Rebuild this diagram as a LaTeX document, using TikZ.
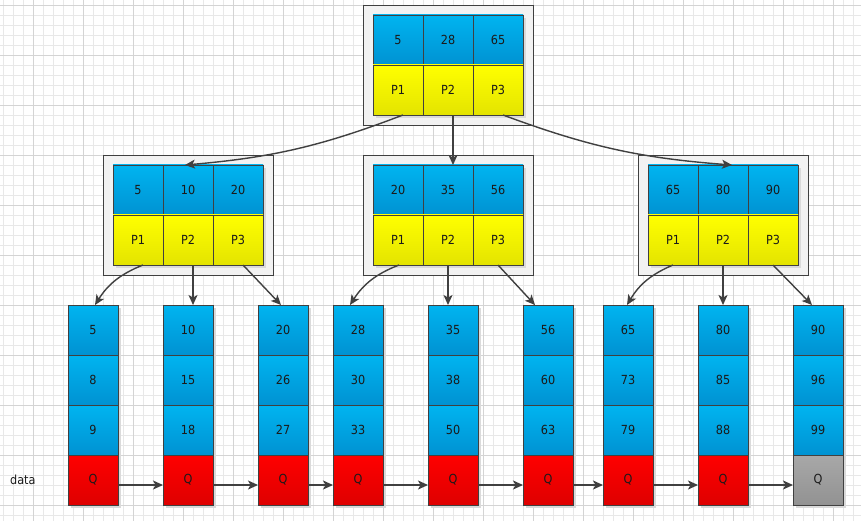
\documentclass[tikz,border=0pt]{standalone}
\usepackage{fontspec}
\setmainfont{DejaVu Sans}[FakeStretch=0.9]
\usetikzlibrary{arrows.meta}
\definecolor{bluetop}{RGB}{0,180,240}
\definecolor{bluebot}{RGB}{0,146,210}
\definecolor{yeltop}{RGB}{255,255,0}
\definecolor{yelbot}{RGB}{228,228,0}
\definecolor{redtop}{RGB}{255,0,0}
\definecolor{redbot}{RGB}{222,0,0}
\definecolor{graytop}{RGB}{168,168,168}
\definecolor{graybot}{RGB}{146,146,146}
\definecolor{linec}{RGB}{64,64,64}
\definecolor{txtc}{RGB}{26,26,26}
\definecolor{outerc}{RGB}{242,242,242}
\definecolor{shadowc}{RGB}{218,218,218}
\definecolor{gridmin}{RGB}{232,232,232}
\definecolor{gridmaj}{RGB}{212,212,212}
\newcommand\cellfont{\fontsize{12.5}{14}\selectfont}
\newcommand\keytable[6]{%
  \fill[shadowc] (#2+3,#3+3) rectangle (#2+153,#3+103);
  \node[bluecell] (#1-k1) at (#2,#3) {#4};
  \node[bluecell] (#1-k2) at (#2+50,#3) {#5};
  \node[bluecell] (#1-k3) at (#2+100,#3) {#6};
  \node[yelcell] (#1-p1) at (#2,#3+50) {P1};
  \node[yelcell] (#1-p2) at (#2+50,#3+50) {P2};
  \node[yelcell] (#1-p3) at (#2+100,#3+50) {P3};}
\newcommand\leafcol[6]{%
  \fill[shadowc] (#2+3,308) rectangle (#2+53,508);
  \node[bluecell] (#1-1) at (#2,305) {#3};
  \node[bluecell] (#1-2) at (#2,355) {#4};
  \node[bluecell] (#1-3) at (#2,405) {#5};
  \node[#6] (#1-4) at (#2,455) {Q};}
\begin{document}
\begin{tikzpicture}[x=1pt,y=-1pt,
  cellbase/.style={draw=linec, line width=0.9pt, minimum width=50pt, minimum height=50pt,
    inner sep=0pt, outer sep=0pt, anchor=north west, text=txtc, font=\cellfont},
  bluecell/.style={cellbase, top color=bluetop, bottom color=bluebot},
  yelcell/.style={cellbase, top color=yeltop, bottom color=yelbot},
  redcell/.style={cellbase, top color=redtop, bottom color=redbot},
  graycell/.style={cellbase, top color=graytop, bottom color=graybot},
  outerbox/.style={draw=linec, line width=0.9pt, fill=outerc, minimum width=170pt,
    minimum height=120pt, inner sep=0pt, outer sep=0pt, anchor=north west},
  conn/.style={draw=linec, line width=1.4pt, -{Stealth[length=10pt,width=9pt,inset=2.5pt]}},
  lbl/.style={text=txtc, font=\cellfont, inner sep=0pt}]
\useasboundingbox (0,0) rectangle (861,521);
\fill[white] (0,0) rectangle (861,521);
% grid
\foreach \x in {3,13,...,863} \draw[gridmin, line width=0.8pt] (\x,0) -- (\x,521);
\foreach \y in {5,15,...,521} \draw[gridmin, line width=0.8pt] (0,\y) -- (861,\y);
\foreach \x in {33,83,...,863} \draw[gridmaj, line width=0.8pt] (\x,0) -- (\x,521);
\foreach \y in {5,55,...,521} \draw[gridmaj, line width=0.8pt] (0,\y) -- (861,\y);
% outer boxes
\node[outerbox] (R) at (363,5) {};
\node[outerbox] (A) at (103,155) {};
\node[outerbox] (B) at (363,155) {};
\node[outerbox] (C) at (638,155) {};
% key tables
\keytable{r}{373}{15}{5}{28}{65}
\keytable{a}{113}{165}{5}{10}{20}
\keytable{b}{373}{165}{20}{35}{56}
\keytable{c}{648}{165}{65}{80}{90}
% leaves
\leafcol{l1}{68}{5}{8}{9}{redcell}
\leafcol{l2}{163}{10}{15}{18}{redcell}
\leafcol{l3}{258}{20}{26}{27}{redcell}
\leafcol{l4}{333}{28}{30}{33}{redcell}
\leafcol{l5}{428}{35}{38}{50}{redcell}
\leafcol{l6}{523}{56}{60}{63}{redcell}
\leafcol{l7}{603}{65}{73}{79}{redcell}
\leafcol{l8}{698}{80}{85}{88}{redcell}
\leafcol{l9}{793}{90}{96}{99}{graycell}
\node[lbl, anchor=west] (data) at (10,480) {data};
% top-level connectors
\draw[conn] ([xshift=5pt]r-p1.south) to[bend left=8] ([xshift=-3pt]a-k2.north);
\draw[conn] ([xshift=5pt]r-p2.south) -- ([xshift=5pt]b-k2.north);
\draw[conn] ([xshift=5pt]r-p3.south) to[bend right=8] ([xshift=9pt]c-k2.north);
% second-level connectors
\draw[conn] ([xshift=5pt]a-p1.south) to[bend right=18] ([xshift=2pt]l1-1.north);
\draw[conn] ([xshift=5pt]a-p2.south) -- ([xshift=5pt]l2-1.north);
\draw[conn] ([xshift=5pt]a-p3.south) -- ([xshift=-2pt]l3-1.north);
\draw[conn] ([xshift=1pt]b-p1.south) to[bend right=18] ([xshift=-8pt]l4-1.north);
\draw[conn] (b-p2.south) -- ([xshift=-5pt]l5-1.north);
\draw[conn] (b-p3.south) -- ([xshift=-13pt]l6-1.north);
\draw[conn] (c-p1.south) to[bend right=18] ([xshift=-1pt]l7-1.north);
\draw[conn] (c-p2.south) -- (l8-1.north);
\draw[conn] (c-p3.south) -- ([xshift=-6pt]l9-1.north);
% leaf chain
\draw[conn] ([yshift=-5pt]l1-4.east) -- ([yshift=-5pt]l2-4.west);
\draw[conn] ([yshift=-5pt]l2-4.east) -- ([yshift=-5pt]l3-4.west);
\draw[conn] ([yshift=-5pt]l3-4.east) -- ([yshift=-5pt]l4-4.west);
\draw[conn] ([yshift=-5pt]l4-4.east) -- ([yshift=-5pt]l5-4.west);
\draw[conn] ([yshift=-5pt]l5-4.east) -- ([yshift=-5pt]l6-4.west);
\draw[conn] ([yshift=-5pt]l6-4.east) -- ([yshift=-5pt]l7-4.west);
\draw[conn] ([yshift=-5pt]l7-4.east) -- ([yshift=-5pt]l8-4.west);
\draw[conn] ([yshift=-5pt]l8-4.east) -- ([yshift=-5pt]l9-4.west);
\end{tikzpicture}
\end{document}
